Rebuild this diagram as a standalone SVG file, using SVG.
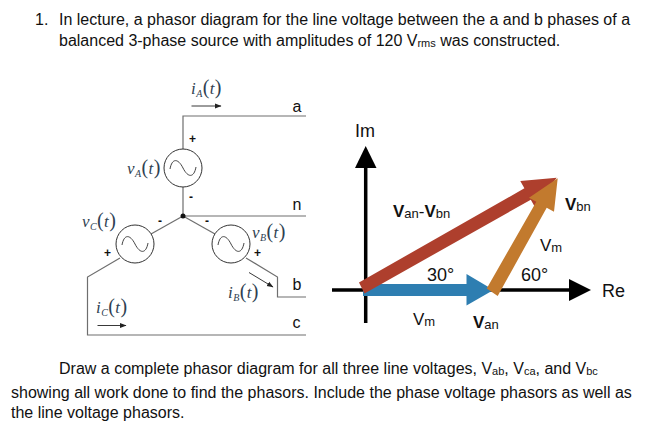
<svg xmlns="http://www.w3.org/2000/svg" width="648" height="431" viewBox="0 0 648 431">
<style>
text{font-family:"Liberation Sans",Arial,sans-serif;fill:#111}
.p{font-size:16px}
.l{font-size:16px}
.sm{font-size:11px}
.m{font-family:"Liberation Serif","Times New Roman",serif;font-style:italic;font-size:17px;letter-spacing:.4px;fill:#2f3f52}
.ms{font-size:10px}
.pr{font-size:20px;font-style:normal;font-weight:200}
.s{font-size:12px;font-weight:bold}
.v{font-size:18px}
.b{font-size:17px}
.vs{font-size:13px}
.w{fill:none;stroke:#6e6e6e;stroke-width:1.2}
.c{fill:#fff;stroke:#333;stroke-width:1}
.t{fill:none;stroke:#444;stroke-width:1}
.a{stroke:#222;stroke-width:.9;fill:none;marker-end:url(#h)}
</style>
<defs>
<marker id="h" markerWidth="7" markerHeight="6" refX="6" refY="3" orient="auto" markerUnits="userSpaceOnUse"><path d="M0 .5L6.5 3L0 5.5Z" fill="#222"/></marker>
</defs>
<g id="problem-text">
<text class="p" x="35" y="25">1.</text>
<text class="p" x="59" y="25">In lecture, a phasor diagram for the line voltage between the a and b phases of a</text>
<text class="p" x="59" y="45.500">balanced 3-phase source with amplitudes of 120 V<tspan class="sm" dy="1">rms</tspan><tspan dy="-1"> was constructed.</tspan></text>
<text class="p" x="59" y="374">Draw a complete phasor diagram for all three line voltages, V<tspan class="sm" dy="1">ab</tspan><tspan dy="-1">, V</tspan><tspan class="sm" dy="1">ca</tspan><tspan dy="-1">, and V</tspan><tspan class="sm" dy="1">bc</tspan></text>
<text class="p" x="11" y="397.500">showing all work done to find the phasors. Include the phase voltage phasors as well as</text>
<text class="p" x="11" y="418">the line voltage phasors.</text>
</g>
<g id="connectors">
<path class="w" d="M183 149V116H306"/>
<path class="w" d="M183 187V216H306"/>
<path class="w" d="M183 216L151 234"/>
<path class="w" d="M183 216L215 234"/>
<path class="w" d="M120 258L87.500 277V335H306"/>
<path class="w" d="M246 258L277.500 277V297H306"/>
<path class="a" d="M191.500 106H221"/>
<path class="a" d="M249 272.500L273 287"/>
<path class="a" d="M97.500 325.500H126"/>
</g>
<g id="neutral"><circle cx="183" cy="216" r="2.500" fill="#111"/></g>
<g id="source-a"><circle class="c" cx="183" cy="168" r="19"/><path class="t" d="M170 169C172 158 178 158 183 168S194 178 196 167"/></g>
<g id="source-c"><circle class="c" cx="135" cy="244" r="19"/><path class="t" d="M122 245C124 234 130 234 135 244S146 254 148 243"/></g>
<g id="source-b"><circle class="c" cx="231" cy="244" r="19"/><path class="t" d="M218 245C220 234 226 234 231 244S242 254 244 243"/></g>
<g id="circuit-labels">
<text class="s" x="189" y="143">+</text>
<text class="s" x="189" y="201">-</text>
<text class="s" x="158" y="225">-</text>
<text class="s" x="205" y="225">-</text>
<text class="s" x="104" y="257">+</text>
<text class="s" x="254" y="257">+</text>
<text class="l" x="292.500" y="112">a</text>
<text class="l" x="292.500" y="210">n</text>
<text class="l" x="292.500" y="290">b</text>
<text class="l" x="292.500" y="328">c</text>
<text class="m" x="191" y="94">i<tspan class="ms" dy="3">A</tspan><tspan class="pr" dy="-3">(</tspan>t<tspan class="pr">)</tspan></text>
<text class="m" x="127" y="174">v<tspan class="ms" dy="3">A</tspan><tspan class="pr" dy="-3">(</tspan>t<tspan class="pr">)</tspan></text>
<text class="m" x="82" y="227">v<tspan class="ms" dy="3">C</tspan><tspan class="pr" dy="-3">(</tspan>t<tspan class="pr">)</tspan></text>
<text class="m" x="252" y="238">v<tspan class="ms" dy="3">B</tspan><tspan class="pr" dy="-3">(</tspan>t<tspan class="pr">)</tspan></text>
<text class="m" x="228" y="298">i<tspan class="ms" dy="3">B</tspan><tspan class="pr" dy="-3">(</tspan>t<tspan class="pr">)</tspan></text>
<text class="m" x="96" y="313">i<tspan class="ms" dy="3">C</tspan><tspan class="pr" dy="-3">(</tspan>t<tspan class="pr">)</tspan></text>
</g>
<g id="axes">
<path d="M365.700 323V165" stroke="#000" stroke-width="3.500" fill="none"/>
<path d="M332 290H572" stroke="#000" stroke-width="3.500" fill="none"/>
<path d="M365.700 146L376.500 168H355Z" fill="#000"/>
<path d="M591 290L569 279V301Z" fill="#000"/>
</g>
<g id="phasor-van"><path d="M363 284H466.500V274L493.500 290L466.500 305.500V296H363Z" fill="#2e7eb1"/></g>
<g id="phasor-diff"><path d="M359 282.500L524.400 188.300L520.300 180.900L556.700 177.700L534.900 207.100L530.800 199.700L364.500 293.500Z" fill="#ae3f2d"/></g>
<g id="phasor-vbn"><path d="M486.700 288.500L536.300 201.700L529 197.700L557.700 178.300L554 211.700L546.700 207.700L497.700 296Z" fill="#c27a2e"/></g>
<g id="phasor-labels">
<text class="v" x="355" y="137">Im</text>
<text class="v" x="602" y="297">Re</text>
<text class="v" x="427" y="280.500">30°</text>
<text class="v" x="521" y="280.500">60°</text>
<text class="b" x="393" y="217"><tspan font-weight="bold">V</tspan><tspan class="vs" dy="1">an</tspan><tspan dy="-1">-</tspan><tspan font-weight="bold">V</tspan><tspan class="vs" dy="1">bn</tspan></text>
<text class="b" x="565" y="210"><tspan font-weight="bold">V</tspan><tspan class="vs" dy="1">bn</tspan></text>
<text class="b" x="540" y="250.500">V<tspan class="vs" dy="1">m</tspan></text>
<text class="b" x="413" y="325">V<tspan class="vs" dy="1">m</tspan></text>
<text class="b" x="473" y="328"><tspan font-weight="bold">V</tspan><tspan class="vs" dy="1">an</tspan></text>
</g>
</svg>
